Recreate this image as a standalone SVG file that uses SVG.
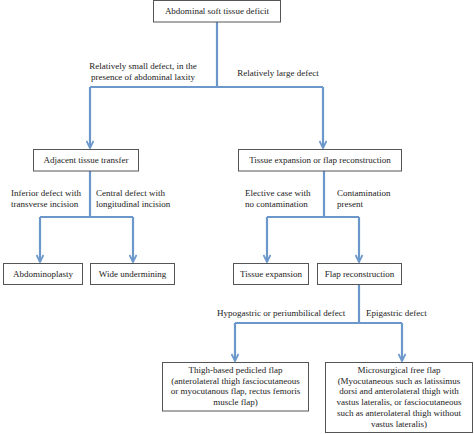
<svg xmlns="http://www.w3.org/2000/svg" width="474" height="434" viewBox="0 0 474 434">
<style>
.box{fill:#fff;stroke:#555;stroke-width:1}
.t{font-family:"Liberation Serif","Times New Roman",serif;font-size:9px;fill:#222}
.c{text-anchor:middle}
.ln{fill:none;stroke:#6b97cb;stroke-width:2.2}
</style>
<defs>
<marker id="ah" viewBox="0 0 10 10" refX="9" refY="5" markerWidth="4" markerHeight="4" orient="auto" markerUnits="strokeWidth">
<path d="M1,1 L9,5 L1,9" fill="none" stroke="#6b97cb" stroke-width="2"/>
</marker>
</defs>
<rect width="474" height="434" fill="#fff"/>
<g id="connectors">
<path class="ln" d="M217,22 V87"/>
<path class="ln" d="M90,87 H323"/>
<path class="ln" d="M90,87 V148" marker-end="url(#ah)"/>
<path class="ln" d="M323,87 V148" marker-end="url(#ah)"/>
<path class="ln" d="M90,171 V217"/>
<path class="ln" d="M40,217 H133"/>
<path class="ln" d="M40,217 V262" marker-end="url(#ah)"/>
<path class="ln" d="M133,217 V262" marker-end="url(#ah)"/>
<path class="ln" d="M324,171 V217"/>
<path class="ln" d="M267,217 H359"/>
<path class="ln" d="M267,217 V262" marker-end="url(#ah)"/>
<path class="ln" d="M359,217 V262" marker-end="url(#ah)"/>
<path class="ln" d="M359,284 V323"/>
<path class="ln" d="M235,323 H402"/>
<path class="ln" d="M235,323 V361" marker-end="url(#ah)"/>
<path class="ln" d="M402,323 V361" marker-end="url(#ah)"/>
<text class="t c" x="143" y="69">Relatively small defect, in the</text>
<text class="t c" x="143" y="80">presence of abdominal laxity</text>
<text class="t c" x="278" y="76">Relatively large defect</text>
<text class="t" x="11" y="196">Inferior defect with</text>
<text class="t" x="11" y="207">transverse incision</text>
<text class="t" x="96" y="196">Central defect with</text>
<text class="t" x="96" y="207">longitudinal incision</text>
<text class="t" x="245" y="196">Elective case with</text>
<text class="t" x="245" y="207">no contamination</text>
<text class="t" x="337" y="196">Contamination</text>
<text class="t" x="337" y="207">present</text>
<text class="t" x="217" y="316">Hypogastric or periumbilical defect</text>
<text class="t" x="366" y="316">Epigastric defect</text>
</g>
<g id="n-root">
<rect class="box" x="153.5" y="0.5" width="127" height="21.5"/>
<text class="t c" x="217" y="14">Abdominal soft tissue deficit</text>
</g>
<g id="n-adjacent">
<rect class="box" x="33.5" y="149.5" width="105" height="21.5"/>
<text class="t c" x="86" y="163">Adjacent tissue transfer</text>
</g>
<g id="n-expflap">
<rect class="box" x="238.5" y="149.5" width="163" height="21.5"/>
<text class="t c" x="320" y="163">Tissue expansion or flap reconstruction</text>
</g>
<g id="n-abdominoplasty">
<rect class="box" x="3.5" y="263.5" width="79" height="21"/>
<text class="t c" x="43" y="277">Abdominoplasty</text>
</g>
<g id="n-wide">
<rect class="box" x="90.5" y="263.5" width="84" height="21"/>
<text class="t c" x="132.5" y="277">Wide undermining</text>
</g>
<g id="n-tissueexp">
<rect class="box" x="233.5" y="263.5" width="75" height="21"/>
<text class="t c" x="271" y="277">Tissue expansion</text>
</g>
<g id="n-flap">
<rect class="box" x="317.5" y="263.5" width="84" height="21"/>
<text class="t c" x="359.5" y="277">Flap reconstruction</text>
</g>
<g id="n-thigh">
<rect class="box" x="162.5" y="362.5" width="146" height="48.5"/>
<text class="t c" x="235.5" y="373">Thigh-based pedicled flap</text>
<text class="t c" x="235.5" y="383.7">(anterolateral thigh fasciocutaneous</text>
<text class="t c" x="235.5" y="394.4">or myocutanous flap, rectus femoris</text>
<text class="t c" x="235.5" y="405.1">muscle flap)</text>
</g>
<g id="n-micro">
<rect class="box" x="325.5" y="362.5" width="147" height="70"/>
<text class="t c" x="399" y="373">Microsurgical free flap</text>
<text class="t c" x="399" y="383.7">(Myocutaneous such as latissimus</text>
<text class="t c" x="399" y="394.4">dorsi and anterolateral thigh with</text>
<text class="t c" x="399" y="405.1">vastus lateralis, or fasciocutaneous</text>
<text class="t c" x="399" y="415.8">such as anterolateral thigh without</text>
<text class="t c" x="399" y="426.5">vastus lateralis)</text>
</g>
</svg>
